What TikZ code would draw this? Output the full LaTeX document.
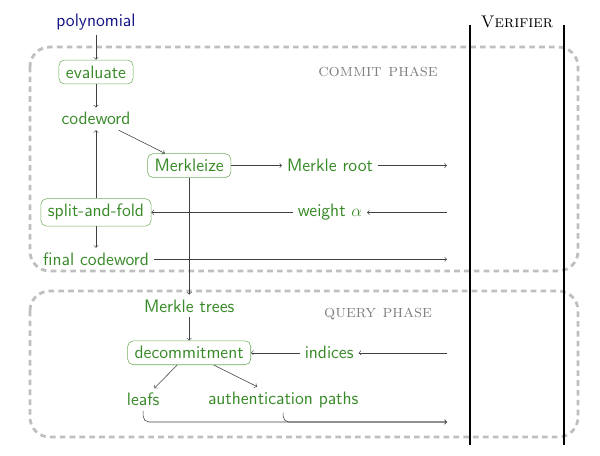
\documentclass[tikz,border=0pt]{standalone}
\usepackage{amsmath, amssymb}
\usepackage{tikz}
\usetikzlibrary{shapes.geometric, arrows}
\definecolor{darkgreen}{RGB}{56,138,40}
\definecolor{boxgreen}{RGB}{112,172,92}
\definecolor{polyblue}{RGB}{20,20,135}
\newcommand{\labelfont}{\sffamily\fontsize{12.8}{15}\selectfont}
\tikzstyle{arrow} = [->, >=to, black!75]
\tikzstyle{process} = [rectangle, rounded corners=4pt, draw=boxgreen, text=darkgreen, font=\labelfont, inner xsep=5pt, inner ysep=4pt]
\tikzstyle{data} = [text=darkgreen, font=\labelfont]
\tikzstyle{phase} = [gray!50, line width=2pt, dash pattern=on 4pt off 3pt, rounded corners=14pt]
\tikzstyle{phasename} = [gray, font=\fontsize{12.5}{15}\selectfont\scshape]
\tikzstyle{wall} = [black, line width=1.2pt]

\begin{document}
\begin{tikzpicture}[node distance = 1.17cm]
            \useasboundingbox (0,0) rectangle (15,-11.4);

            % the two phases
            \draw [phase] (0.75,-1.175) rectangle (14.45,-6.775);
            \draw [phase] (0.75,-7.275) rectangle (14.45,-10.925);
            \node (commitname) [phasename] at (9.45,-1.8) {commit phase};
            \node (queryname) [phasename] at (9.45,-7.85) {query phase};

            % verifier column
            \node (verifier) [font=\large] at (12.925,-0.55) {\textsc{Verifier}};
            \coordinate (vtopl) at (11.75,-0.62);
            \coordinate (vbotl) at (11.75,-11.125);
            \coordinate (vtopr) at (14.1,-0.62);
            \coordinate (vbotr) at (14.1,-11.125);
            \draw [wall] (vtopl) -- (vbotl);
            \draw [wall] (vtopr) -- (vbotr);

            % commit phase
            \node (poly) [text=polyblue, font=\labelfont] at (2.4,-0.55) {polynomial};
            \node (evaluate) [process, below of = poly, yshift = -0.08cm] {evaluate};
            \node (codeword) [data, below of = evaluate] {codeword};
            \node (merkleize) [process, below of = codeword, xshift = 2.33cm] {Merkleize};
            \node (split) [process, below of = merkleize, xshift = -2.33cm] {split-and-fold};
            \node (final) [data, below of = split] {final codeword};
            \node (merkleroot) [data, right of = merkleize, xshift = 2.35cm] {Merkle root};
            \node (weight) [data, below of = merkleroot] {weight $\alpha$};

            \node (rootout) [coordinate, right of = merkleroot, xshift = 1.755cm] {};
            \node (weightin) [coordinate, right of = weight, xshift = 1.755cm] {};
            \coordinate (finalout) at (final -| rootout);

            % query phase
            \node (merkletrees) [data, below of = merkleize, yshift = -2.34cm] {Merkle trees};
            \node (decommit) [process, below of = merkletrees] {decommitment};
            \node (indices) [data, right of = decommit, xshift = 2.33cm] {indices};
            \node (leafs) [data, below of = decommit, xshift = -1.15cm] {leafs};
            \node (authpaths) [data, below of = decommit, xshift = 2.35cm] {authentication paths};

            \coordinate (indicesin) at (indices -| rootout);
            \coordinate (pathsout) at ([yshift = -0.56cm]authpaths -| rootout);

            \draw [arrow] (poly) -- (evaluate);
            \draw [arrow] (evaluate) -- (codeword);
            \draw [arrow] (codeword) -- (merkleize);
            \draw [arrow] (split) -- (codeword);
            \draw [arrow] (split) -- (final);
            \draw [arrow] (merkleize) -- (merkleroot);
            \draw [arrow] (merkleroot) -- (rootout);
            \draw [arrow] (weightin) -- (weight);
            \draw [arrow] (weight) -- (split);
            \draw [arrow] (final) -- (finalout);

            \draw [arrow] (merkleize) -- (merkletrees);
            \draw [arrow] (merkletrees) -- (decommit);
            \draw [arrow] (indicesin) -- (indices);
            \draw [arrow] (indices) -- (decommit);
            \draw [arrow] (decommit) -- (leafs);
            \draw [arrow] (decommit) -- (authpaths);
            \draw [arrow, rounded corners] (leafs) |- (pathsout);
            \draw [arrow, rounded corners] (authpaths) |- (pathsout);
\end{tikzpicture}
\end{document}
